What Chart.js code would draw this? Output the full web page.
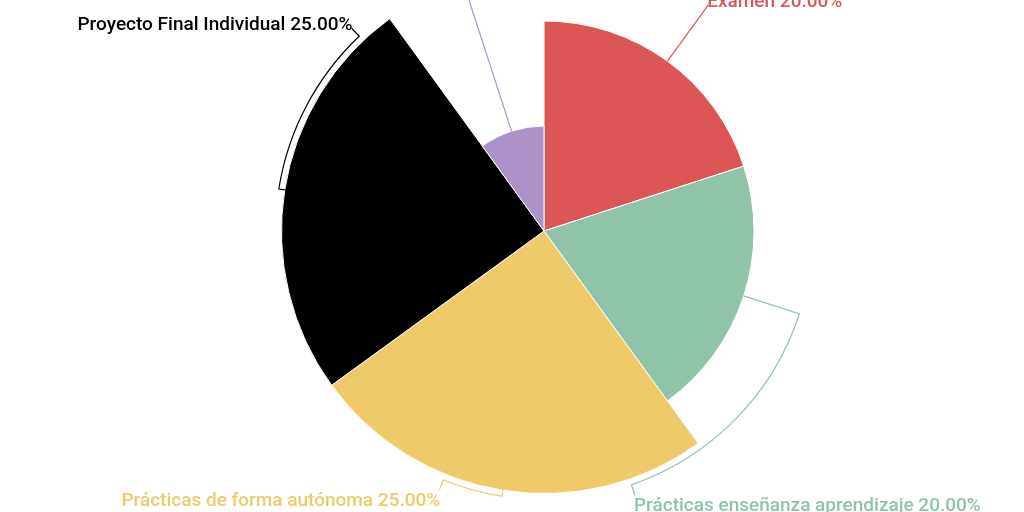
<!DOCTYPE html>
<html>
<head>
<meta charset="utf-8">
<script src="https://cdn.jsdelivr.net/npm/chart.js@4.4.1/dist/chart.umd.min.js"></script>
<style>
  html, body { margin: 0; padding: 0; background: #fff; }
  #wrap { width: 1024px; height: 512px; }
</style>
</head>
<body>
<div id="wrap"><canvas id="chart"></canvas></div>
<script>
const labels = ['Examen', 'Prácticas enseñanza aprendizaje', 'Prácticas de forma autónoma', 'Proyecto Final Individual', 'Participación'];
const weights = [20, 20, 25, 25, 10];
const colors = ['#dd5656', '#8fc4a8', '#eeca6a', '#000000', '#ac92c9'];

const total = weights.reduce((a, b) => a + b, 0);

// draws the label callouts: radial line out of the slice, along a ring, then the text
const leaderLabels = {
    id: 'leaderLabels',
    afterDatasetsDraw(chart, args, opts) {
	const ctx = chart.ctx;
	const arcs = chart.getDatasetMeta(0).data;
	const maxR = Math.max(...arcs.map(a => a.outerRadius));
	const ring = maxR + 6;
	const out = maxR + 17;
	ctx.save();
	ctx.lineWidth = 1.2;
	ctx.font = opts.font;
	arcs.forEach((arc, i) => {
	    const mid = (arc.startAngle + arc.endAngle) / 2;
	    const end = mid + opts.shift[i] * Math.PI / 180;
	    const pt = (a, r) => [arc.x + Math.cos(a) * r, arc.y + Math.sin(a) * r];
	    const color = colors[i];
	    ctx.strokeStyle = color;
	    ctx.fillStyle = color;
	    ctx.beginPath();
	    ctx.moveTo(...pt(mid, arc.outerRadius));
	    ctx.lineTo(...pt(mid, ring));
	    if (end !== mid) ctx.arc(arc.x, arc.y, ring, mid, end, end < mid);
	    const [ex, ey] = pt(end, out);
	    ctx.lineTo(ex, ey);
	    ctx.stroke();

	    const right = Math.cos(end) > 0;
	    const upper = Math.sin(end) < 0;
	    ctx.textAlign = right ? 'left' : 'right';
	    ctx.textBaseline = 'middle';
	    const text = labels[i] + ' ' + (weights[i] / total * 100).toFixed(2) + '%';
	    ctx.fillText(text, ex + (right ? -1 : 1), upper ? ey - 3 : ey + 11);
	});
	ctx.restore();
    }
};

new Chart(
    document.getElementById('chart'),
    {
	type: 'polarArea',
	data: {
	    labels: labels,
	    datasets: [
		{
		    data: weights,
		    angle: weights.map(w => w / total * 360),
		    backgroundColor: colors,
		    borderColor: '#ffffff',
		    borderWidth: 1
		}
	    ]
	},
	options: {
	    animation: false,
	    responsive: true,
	    maintainAspectRatio: false,
	    layout: {
		padding: { left: 313, right: 249, top: 0, bottom: 50 }
	    },
	    scales: {
		r: { display: false, min: 0, max: 22 }
	    },
	    plugins: {
		legend: { display: false },
		tooltip: { enabled: false },
		leaderLabels: {
		    font: '500 19px Roboto',
		    shift: [0, 53, 13, 37.5, 0]
		}
	    }
	},
	plugins: [leaderLabels]
    }
);
</script>
</body>
</html>
